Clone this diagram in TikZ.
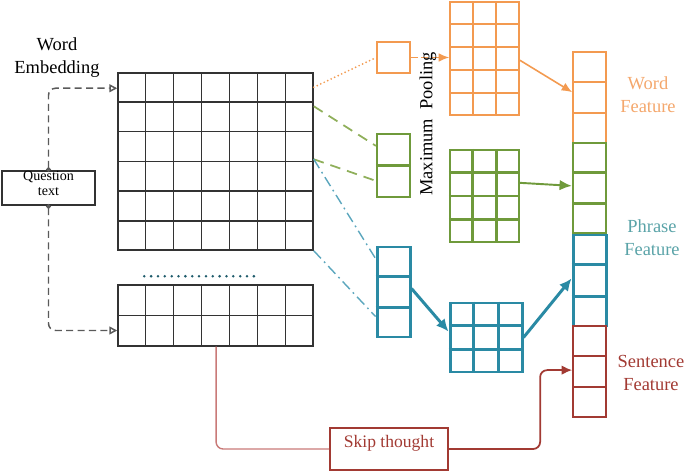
\documentclass[tikz,border=0pt]{standalone}
\usepackage{fontspec}
\setmainfont{Liberation Serif}
\usetikzlibrary{arrows.meta, positioning, calc, fit}
\definecolor{EmbGray}{HTML}{333333}
\definecolor{LinkGray}{HTML}{5A5A5A}
\definecolor{WordOrange}{HTML}{F39A50}
\definecolor{WordText}{HTML}{F4A76C}
\definecolor{PhraseGreen}{HTML}{6F9A3B}
\definecolor{PhraseGreenLine}{HTML}{8FAF5A}
\definecolor{PhraseBlue}{HTML}{2A8AA4}
\definecolor{PhraseBlueLine}{HTML}{5BA6BD}
\definecolor{PhraseText}{HTML}{5AA3A8}
\definecolor{SentRed}{HTML}{A23A33}
\definecolor{SentLine}{HTML}{C97A78}
\definecolor{DotTeal}{HTML}{1E5B6B}
% inner lines of a block: node, columns, rows, style
\newcommand{\cellsplit}[4]{%
    \foreach \i in {1,...,#2}{\ifnum\i<#2
        \draw[#4] ($(#1.north west)!\i/#2!(#1.north east)$) -- ($(#1.south west)!\i/#2!(#1.south east)$);\fi}%
    \foreach \j in {1,...,#3}{\ifnum\j<#3
        \draw[#4] ($(#1.north west)!\j/#3!(#1.south west)$) -- ($(#1.north east)!\j/#3!(#1.south east)$);\fi}}
\tikzset{
    % Block styles
    embbox/.style={draw=EmbGray, line width=0.85pt, inner sep=0pt},
    embline/.style={draw=EmbGray, line width=0.85pt},
    wordbox/.style={draw=WordOrange, line width=0.9pt, inner sep=0pt},
    wordline/.style={draw=WordOrange, line width=0.9pt},
    greenbox/.style={draw=PhraseGreen, line width=1.3pt, inner sep=0pt},
    greenline/.style={draw=PhraseGreen, line width=1.3pt},
    bluebox/.style={draw=PhraseBlue, line width=1.7pt, inner sep=0pt},
    blueline/.style={draw=PhraseBlue, line width=1.7pt},
    redbox/.style={draw=SentRed, line width=1pt, inner sep=0pt},
    redline/.style={draw=SentRed, line width=1pt},
    textbox/.style={draw=EmbGray, line width=0.8pt, inner sep=0pt, align=center,
        font=\fontsize{8}{9}\selectfont},
    skipbox/.style={draw=SentRed, line width=1pt, inner sep=0pt, text=SentRed,
        font=\fontsize{10}{12}\selectfont},
    featlabel/.style={align=center, font=\fontsize{10.5}{13}\selectfont},
    % Connector styles
    inputarrow/.style={draw=LinkGray, line width=0.85pt, dash pattern=on 4pt off 2.5pt,
        rounded corners=4pt, {Circle[open,length=2.6pt]}-{Triangle[open,length=4.5pt,width=4.5pt]}},
    orangedot/.style={draw=WordOrange, line width=1.1pt, line cap=round, dash pattern=on 0pt off 2.2pt},
    orangedash/.style={draw=WordOrange, line width=0.9pt, dash pattern=on 4pt off 2pt,
        -{Latex[length=6pt,width=5pt]}},
    orangearrow/.style={draw=WordOrange, line width=0.9pt, -{Latex[length=6pt,width=5pt]}},
    greendash/.style={draw=PhraseGreenLine, line width=1pt, dash pattern=on 6pt off 4pt},
    greenarrow/.style={draw=PhraseGreen, line width=1.1pt, -{Latex[length=7pt,width=6pt]}},
    bluedashdot/.style={draw=PhraseBlueLine, line width=0.8pt,
        dash pattern=on 6pt off 2.5pt on 1pt off 2.5pt},
    bluearrow/.style={draw=PhraseBlue, line width=1.7pt, -{Latex[length=7pt,width=6.5pt]}},
    skiplink/.style={draw=SentLine, line width=0.8pt, rounded corners=4pt},
    redarrow/.style={draw=SentRed, line width=1pt, rounded corners=4pt,
        -{Latex[length=6pt,width=5.5pt]}},
    dotrow/.style={draw=DotTeal, line width=1.6pt, line cap=round, dash pattern=on 0pt off 3.9pt}
}
\begin{document}
\begin{tikzpicture}[x=0.02cm, y=-0.02cm]
    \useasboundingbox (0,0) rectangle (685,475);

    % word embedding of the question
    \node[featlabel] (wetitle) at (57,58) {Word\\Embedding};
    \node[fit={(118,73) (313,250)}, embbox] (emb) {};
    \cellsplit{emb}{7}{6}{embline}
    \node[fit={(118,285) (313,346)}, embbox] (low) {};
    \cellsplit{low}{7}{2}{embline}
    \draw[dotrow] ($(low.north west)+(27,-8)$) -- ($(low.north west)+(142,-8)$);

    \node[fit={(2,171) (95,205)}, textbox] (q) {Question\\text};
    \draw[inputarrow] ($(q.north)+(0,1.5)$) |- ($(emb.north west)+(0,16)$);
    \draw[inputarrow] ($(q.south)+(0,-1.5)$) |- ($(low.west)+(0,15)$);

    % word level
    \node[fit={(377,42) (410,73)}, wordbox] (ws) {};
    \node[fit={(450,2) (519,115)}, wordbox] (og) {};
    \cellsplit{og}{3}{5}{wordline}
    \node[fit={(573,52) (606,143)}, wordbox] (wf) {};
    \cellsplit{wf}{1}{3}{wordline}
    \node[featlabel, text=WordText] (wflabel) at (648,95) {Word\\Feature};

    % phrase level, green
    \node[fit={(377,134) (410,197)}, greenbox] (gs) {};
    \cellsplit{gs}{1}{2}{greenline}
    \node[fit={(450,150) (519,242)}, greenbox] (gg) {};
    \cellsplit{gg}{3}{4}{greenline}
    \node[fit={(573,143) (606,233)}, greenbox] (gf) {};
    \cellsplit{gf}{1}{3}{greenline}

    % phrase level, blue
    \node[fit={(377,247) (410,337)}, bluebox] (bs) {};
    \cellsplit{bs}{1}{3}{blueline}
    \node[fit={(450,303) (522,372)}, bluebox] (bg) {};
    \cellsplit{bg}{3}{3}{blueline}
    \node[fit={(573,235) (606,326)}, bluebox] (bf) {};
    \cellsplit{bf}{1}{3}{blueline}
    \node[featlabel, text=PhraseText] (pflabel) at (652,238) {Phrase\\Feature};

    % sentence level
    \node[fit={(573,326) (606,417)}, redbox] (sf) {};
    \cellsplit{sf}{1}{3}{redline}
    \node[featlabel, text=SentRed] (sflabel) at (651,373) {Sentence\\Feature};
    \node[fit={(330,428) (448,470)}, skipbox] (skip) {Skip thought};

    % links
    \draw[orangedot] ($(emb.north east)+(0,15)$) -- (ws.west);
    \draw[orangedash] (ws.east) -- (ws.east -| og.west);
    \draw[orangearrow] ($(og.north east)+(0,59)$) -- ($(wf.north west)+(0,41)$);

    \draw[greendash] ($(emb.north east)+(0,34)$) -- ($(gs.north west)+(0,13)$);
    \draw[greendash] ($(emb.north east)+(0,87)$) -- ($(gs.north west)+(0,48)$);
    \draw[greendash] ($(gs.south east)+(0,-16)$) -- ($(gs.south east)+(0,-16)$ -| gg.west);
    \draw[greenarrow] ($(gg.north east)+(0,34)$) -- ($(gf.north west)+(0,44)$);

    \draw[bluedashdot] ($(emb.north east)+(0,87)$) -- ($(bs.north west)+(0,13)$);
    \draw[bluedashdot] (emb.south east) -- ($(bs.north west)+(0,71)$);
    \draw[bluearrow] ($(bs.north east)+(0,43)$) -- ($(bg.north west)+(0,30)$);
    \draw[bluearrow] ($(bg.north east)+(0,36)$) -- ($(bf.north west)+(0,45)$);

    \draw[skiplink] ($(low.south west)!0.503!(low.south east)$) |- (skip.west);
    \draw[redarrow] (skip.east) -| ($(sf.north west)+(-32,45)$) -- ($(sf.north west)+(0,45)$);

    \node[featlabel, rotate=90] (pool) at (428,124) {Maximum\ \ Pooling};
\end{tikzpicture}
\end{document}
